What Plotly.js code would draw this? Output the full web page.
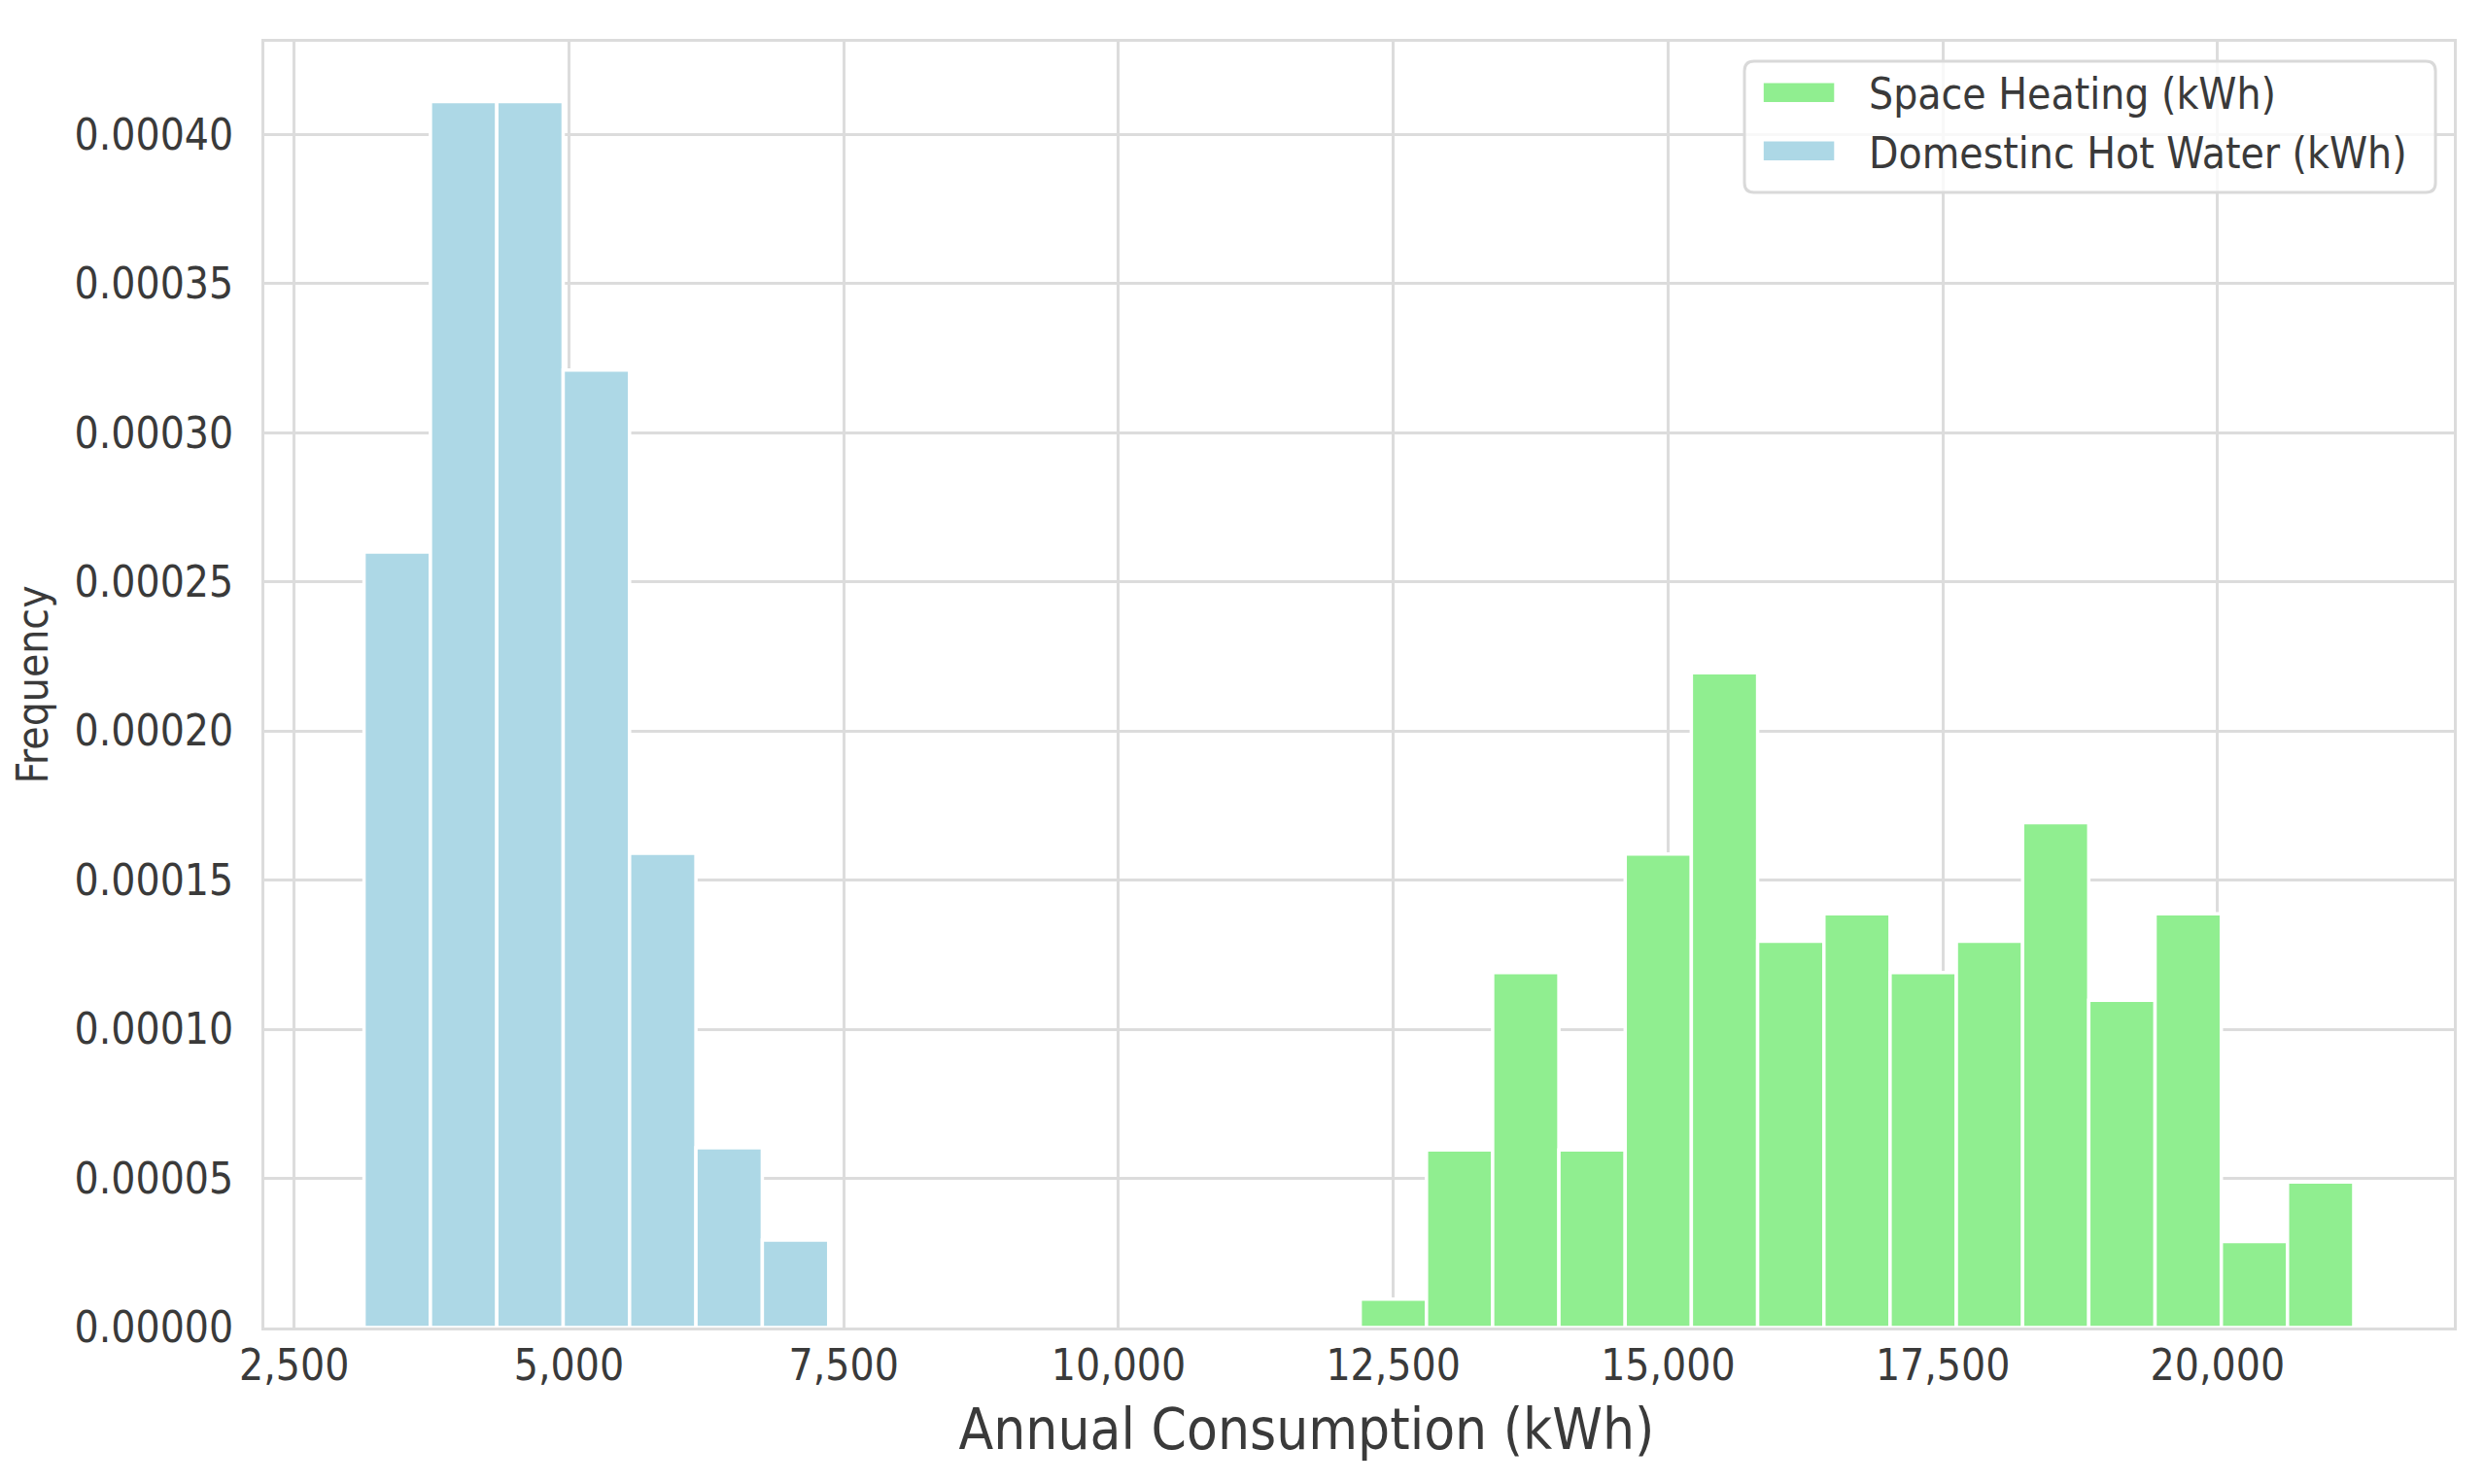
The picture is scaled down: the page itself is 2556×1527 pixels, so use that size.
<!DOCTYPE html>
<html>
<head>
<meta charset="utf-8">
<script src="https://cdn.plot.ly/plotly-3.0.1.min.js"></script>
<style>
  html, body { margin: 0; padding: 0; background: #ffffff; }
  #chart { width: 2556px; height: 1527px; }
</style>
</head>
<body>
<div id="chart"></div>
<script>
// ---- Data ----
const seriesNames = ["Space Heating (kWh)", "Domestinc Hot Water (kWh)"];

// Space Heating histogram: bin edges (kWh) and density values
const shBinEdges = [12199, 12802, 13404, 14007, 14610, 15212, 15815, 16418, 17020,
                    17623, 18226, 18828, 19431, 20034, 20636, 21239];
const shDensity  = [0.0000095, 0.0000595, 0.000119, 0.0000595, 0.0001587, 0.0002195,
                    0.0001295, 0.0001387, 0.000119, 0.0001295, 0.0001692, 0.0001097,
                    0.0001387, 0.0000288, 0.0000488];

// Domestic Hot Water histogram: bin edges (kWh) and density values
const dhwBinEdges = [3135, 3739, 4343, 4947, 5551, 6155, 6759, 7363];
const dhwDensity  = [0.000260, 0.000411, 0.000411, 0.000321, 0.000159, 0.0000603, 0.0000293];

// Axis ticks
const xTickVals = [2500, 5000, 7500, 10000, 12500, 15000, 17500, 20000];
const yTickVals = [0, 0.00005, 0.0001, 0.00015, 0.0002, 0.00025, 0.0003, 0.00035, 0.0004];

// ---- Helpers building bar geometry from the bin edges ----
function lefts(edges) { return edges.slice(0, -1); }
function widths(edges) { return edges.slice(1).map((e, i) => e - edges[i]); }

const FONT = "DejaVu Sans Condensed, DejaVu Sans, sans-serif";
const TXT = "#3a3a3a";
const GRID = "#dcdcdc";

const traces = [
  {
    type: "bar",
    name: seriesNames[0],
    legendgroup: "sh",
    x: lefts(shBinEdges),
    y: shDensity,
    width: widths(shBinEdges),
    offset: 0,
    marker: { color: "#90EE90", line: { color: "#ffffff", width: 3.5 } },
    hoverinfo: "x+y"
  },
  {
    type: "bar",
    name: seriesNames[1],
    legendgroup: "dhw",
    x: lefts(dhwBinEdges),
    y: dhwDensity,
    width: widths(dhwBinEdges),
    offset: 0,
    marker: { color: "#ADD8E6", line: { color: "#ffffff", width: 3.5 } },
    hoverinfo: "x+y"
  }
];

// Legend frame (rounded, semi-transparent) in paper coordinates
const lg = { x0: 0.6760, x1: 0.9916, y0: 0.8828, y1: 0.9849, rx: 0.0044, ry: 0.0076 };
const legendFramePath =
  "M" + (lg.x0 + lg.rx) + "," + lg.y1 +
  " L" + (lg.x1 - lg.rx) + "," + lg.y1 +
  " Q" + lg.x1 + "," + lg.y1 + " " + lg.x1 + "," + (lg.y1 - lg.ry) +
  " L" + lg.x1 + "," + (lg.y0 + lg.ry) +
  " Q" + lg.x1 + "," + lg.y0 + " " + (lg.x1 - lg.rx) + "," + lg.y0 +
  " L" + (lg.x0 + lg.rx) + "," + lg.y0 +
  " Q" + lg.x0 + "," + lg.y0 + " " + lg.x0 + "," + (lg.y0 + lg.ry) +
  " L" + lg.x0 + "," + (lg.y1 - lg.ry) +
  " Q" + lg.x0 + "," + lg.y1 + " " + (lg.x0 + lg.rx) + "," + lg.y1 + " Z";

const layout = {
  width: 2556,
  height: 1527,
  margin: { l: 272, r: 31, t: 43, b: 161, pad: 0 },
  paper_bgcolor: "#ffffff",
  plot_bgcolor: "#ffffff",
  barmode: "overlay",
  bargap: 0,
  font: { family: FONT, size: 44, color: TXT },
  showlegend: true,
  legend: {
    x: 0.6840, y: 0.9871, xanchor: "left", yanchor: "top",
    bgcolor: "rgba(0,0,0,0)",
    borderwidth: 0,
    font: { family: FONT, size: 44, color: TXT },
    itemwidth: 100,
    tracegroupgap: 4,
    traceorder: "normal"
  },
  shapes: [
    {
      type: "path", xref: "paper", yref: "paper", layer: "above",
      path: legendFramePath,
      fillcolor: "rgba(255,255,255,0.8)",
      line: { color: "#d9d9d9", width: 3 }
    }
  ],
  xaxis: {
    range: [2228, 22150],
    tickmode: "array",
    tickvals: xTickVals,
    tickformat: ",d",
    ticks: "",
    ticklabelstandoff: -2,
    showgrid: true, gridcolor: GRID, gridwidth: 3,
    zeroline: false,
    showline: true, linecolor: GRID, linewidth: 3, mirror: true,
    tickfont: { family: FONT, size: 44, color: TXT },
    title: { text: "Annual Consumption (kWh)", font: { family: FONT, size: 58, color: TXT }, standoff: 22 },
    automargin: false
  },
  yaxis: {
    range: [0, 0.000431],
    tickmode: "array",
    tickvals: yTickVals,
    tickformat: ".5f",
    ticks: "",
    ticklabelstandoff: 20,
    showgrid: true, gridcolor: GRID, gridwidth: 3,
    zeroline: false,
    showline: true, linecolor: GRID, linewidth: 3, mirror: true,
    tickfont: { family: FONT, size: 44, color: TXT },
    title: { text: "Frequency", font: { family: FONT, size: 44, color: TXT }, standoff: 14 },
    automargin: false
  }
};

Plotly.newPlot("chart", traces, layout, { displayModeBar: false, staticPlot: true }).then(function (gd) {
  // Enlarge legend patches to wide rectangles, like the reference legend handles.
  const items = gd.querySelectorAll(".legend g.traces");
  items.forEach(function (item) {
    const path = item.querySelector("path.legendbar") || item.querySelector(".legendpoints path");
    const text = item.querySelector("text.legendtext");
    if (!path || !text) return;
    const pr = path.getBoundingClientRect();
    const tr = text.getBoundingClientRect();
    const cx = pr.left + pr.width / 2;
    const right = tr.left - 34 - cx;
    const left = right - 76;
    path.setAttribute("d", "M" + left + ",11.5H" + right + "V-11.5H" + left + "Z");
  });
  // The reference's x-axis title sits slightly left of the plot centre.
  const xt = gd.querySelector(".xtitle");
  if (xt) {
    const cur = parseFloat(xt.getAttribute("x"));
    if (!isNaN(cur)) xt.setAttribute("x", cur - 54);
  }
});
</script>
</body>
</html>
